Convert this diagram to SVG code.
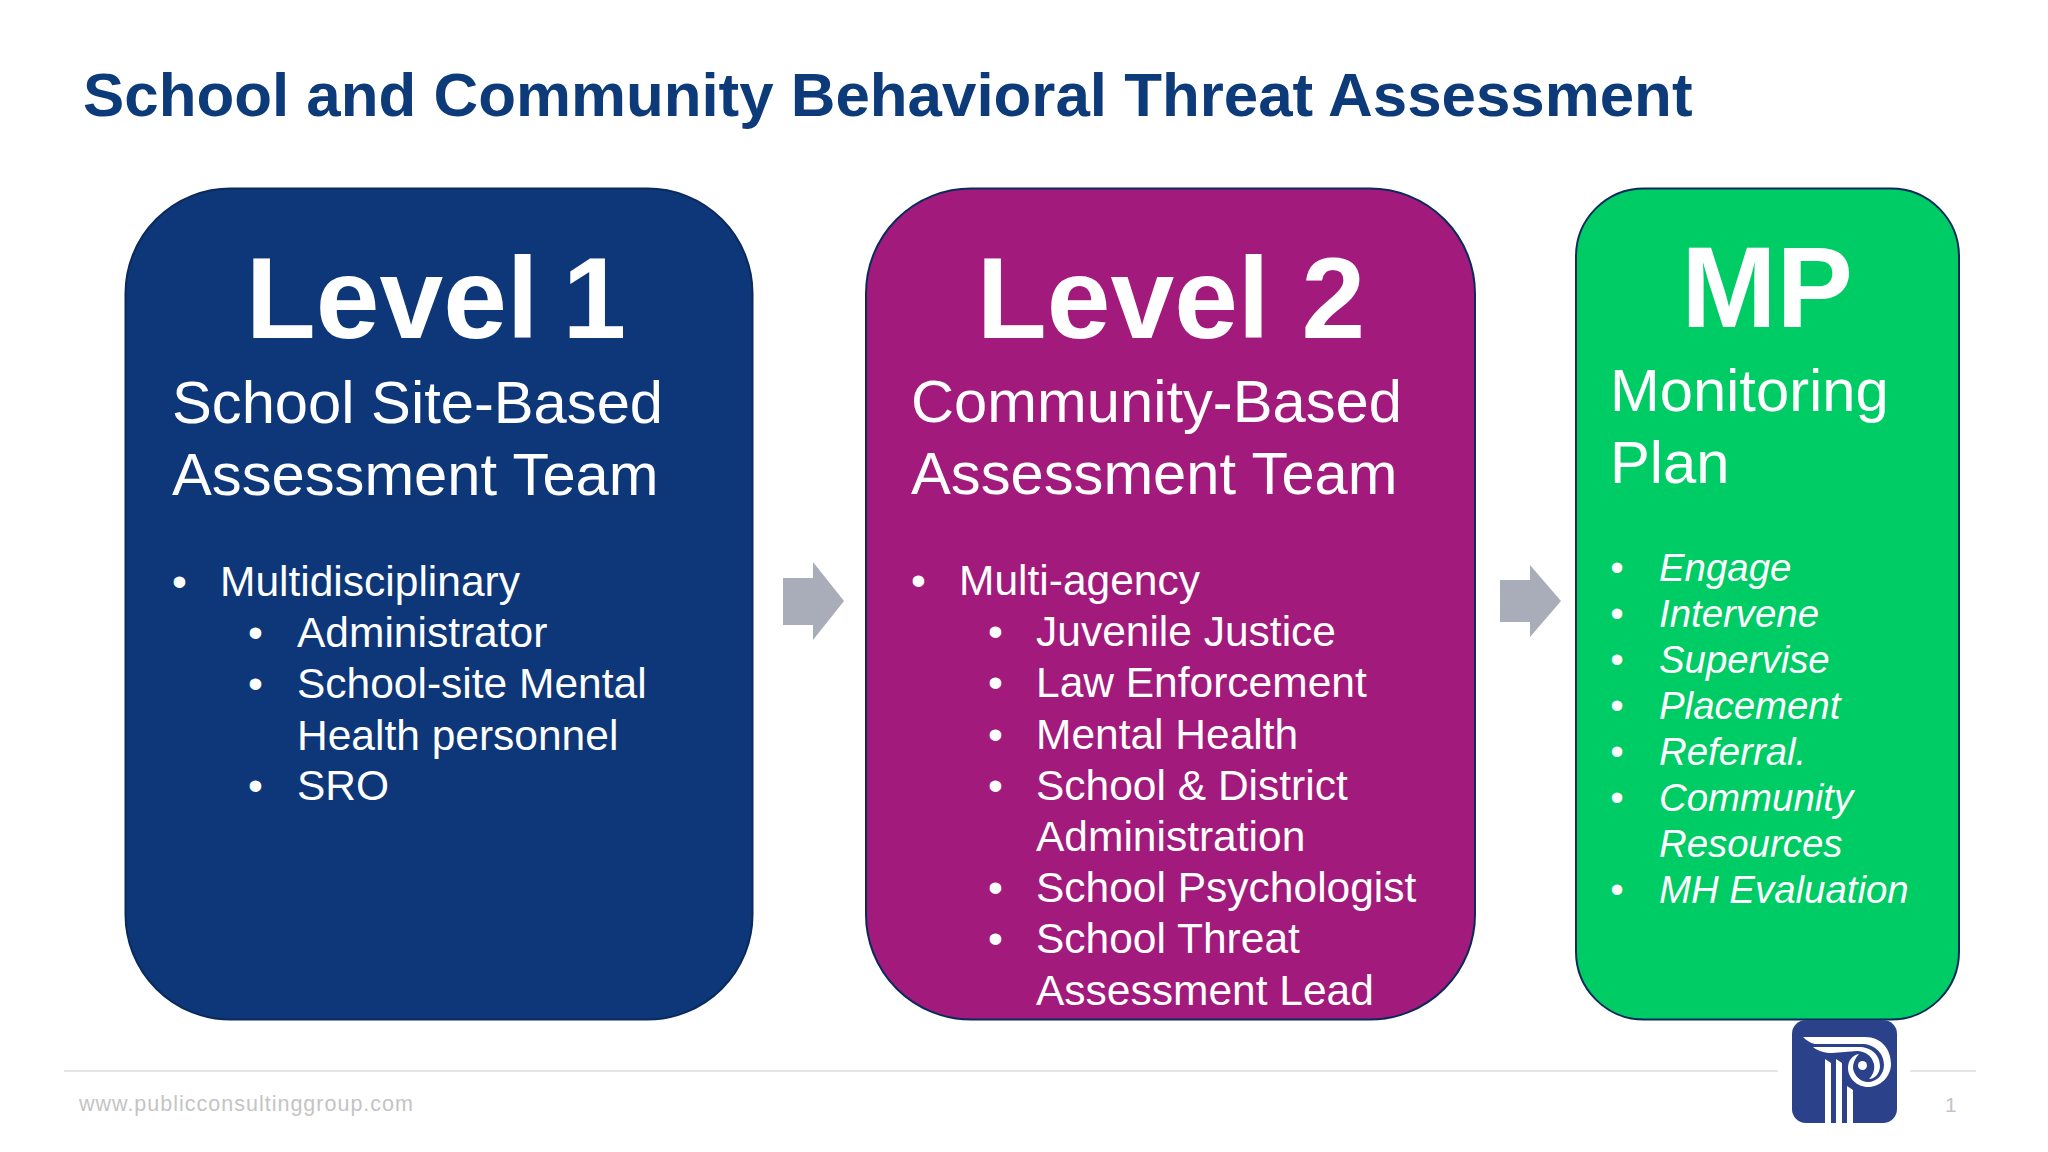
<svg xmlns="http://www.w3.org/2000/svg" width="2048" height="1152" viewBox="0 0 2048 1152">
<style>
text{font-family:"Liberation Sans",Arial,sans-serif;fill:#fff}
.box{stroke:#0b2a5c;stroke-width:2}
.h{font-size:114.5px;font-weight:700;text-anchor:middle}
.s{font-size:59.7px}
.b{font-size:42.5px}
.i{font-size:38.4px;font-style:italic}
.arrow{fill:#a9acb9}
.rule{stroke:#dcdcdc;stroke-width:1.5;fill:none}
</style>
<rect width="2048" height="1152" fill="#fff"/>
<text x="83" y="116" font-size="61.85" font-weight="700" style="fill:#0d3a78">School and Community Behavioral Threat Assessment</text>
<g id="node-level1">
<rect class="box" x="125.500" y="188.500" width="627" height="831" rx="105" fill="#0d3778"/>
<text class="h" x="436" y="338" word-spacing="-8">Level 1</text>
<text class="s" x="172" y="423">School Site-Based</text>
<text class="s" x="172" y="495">Assessment Team</text>
<text class="b" x="172" y="596">•</text><text class="b" x="220" y="596">Multidisciplinary</text>
<text class="b" x="248" y="647">•</text><text class="b" x="297" y="647">Administrator</text>
<text class="b" x="248" y="698">•</text><text class="b" x="297" y="698">School-site Mental</text>
<text class="b" x="297" y="750">Health personnel</text>
<text class="b" x="248" y="800">•</text><text class="b" x="297" y="800">SRO</text>
</g>
<g id="node-level2">
<rect class="box" x="866" y="188.500" width="609" height="831" rx="105" fill="#a21a7c"/>
<text class="h" x="1171" y="338">Level 2</text>
<text class="s" x="911" y="422">Community-Based</text>
<text class="s" x="911" y="494">Assessment Team</text>
<text class="b" x="911" y="595">•</text><text class="b" x="959" y="595">Multi-agency</text>
<text class="b" x="988" y="646">•</text><text class="b" x="1036" y="646">Juvenile Justice</text>
<text class="b" x="988" y="697">•</text><text class="b" x="1036" y="697">Law Enforcement</text>
<text class="b" x="988" y="749">•</text><text class="b" x="1036" y="749">Mental Health</text>
<text class="b" x="988" y="800">•</text><text class="b" x="1036" y="800">School &amp; District</text>
<text class="b" x="1036" y="851">Administration</text>
<text class="b" x="988" y="902">•</text><text class="b" x="1036" y="902">School Psychologist</text>
<text class="b" x="988" y="953">•</text><text class="b" x="1036" y="953">School Threat</text>
<text class="b" x="1036" y="1005">Assessment Lead</text>
</g>
<g id="node-mp">
<rect class="box" x="1576" y="188.500" width="383" height="831" rx="68" fill="#00cc66"/>
<text class="h" x="1767" y="327">MP</text>
<text class="s" x="1610" y="411">Monitoring</text>
<text class="s" x="1610" y="483">Plan</text>
<text class="i" x="1610" y="581">•</text><text class="i" x="1659" y="581">Engage</text>
<text class="i" x="1610" y="627">•</text><text class="i" x="1659" y="627">Intervene</text>
<text class="i" x="1610" y="673">•</text><text class="i" x="1659" y="673">Supervise</text>
<text class="i" x="1610" y="719">•</text><text class="i" x="1659" y="719">Placement</text>
<text class="i" x="1610" y="765">•</text><text class="i" x="1659" y="765">Referral.</text>
<text class="i" x="1610" y="811">•</text><text class="i" x="1659" y="811">Community</text>
<text class="i" x="1659" y="857">Resources</text>
<text class="i" x="1610" y="903">•</text><text class="i" x="1659" y="903">MH Evaluation</text>
</g>
<g id="connectors">
<polygon class="arrow" points="783,578 813,578 813,562 844,601 813,640 813,625 783,625"/>
<polygon class="arrow" points="1500,580 1530,580 1530,565 1561,601 1530,637 1530,622 1500,622"/>
</g>
<g id="footer">
<line class="rule" x1="64" y1="1071" x2="1778" y2="1071"/>
<line class="rule" x1="1910" y1="1071" x2="1976" y2="1071"/>
<text x="79" y="1111" font-size="21.500" letter-spacing="1" style="fill:#c4c4c4">www.publicconsultinggroup.com</text>
<text x="1945" y="1112" font-size="21" style="fill:#c4c4c4">1</text>
</g>
<g id="logo">
<rect x="1792" y="1020" width="105" height="103" rx="14" fill="#2b4189"/>
<path d="M1803 1037L1865 1037C1882 1037 1891 1050 1891 1064C1891 1077 1880 1087 1868 1087C1857 1087 1848 1078 1848 1068C1848 1060 1853 1055 1859 1054C1855 1058 1853 1063 1853 1068C1854 1076 1861 1082 1868 1082C1877 1082 1884 1074 1884 1065C1884 1052 1873 1044 1862 1044L1815 1044C1810 1043 1806 1040 1803 1037Z" fill="#fff"/>
<path d="M1813 1047L1859 1047C1870 1047 1880 1054 1880 1066C1880 1073 1875 1079 1869 1079C1873 1075 1875 1070 1874 1064C1872 1056 1865 1051 1857 1051L1832 1053C1825 1053 1818 1051 1813 1047Z" fill="#fff"/>
<path d="M1825 1059L1831 1063V1123H1825Z M1836 1059L1842 1063V1123H1836Z M1847 1086L1853 1090V1123H1847Z" fill="#fff"/>
<circle cx="1862.500" cy="1065.500" r="4.500" fill="#fff"/>
</g>
</svg>
